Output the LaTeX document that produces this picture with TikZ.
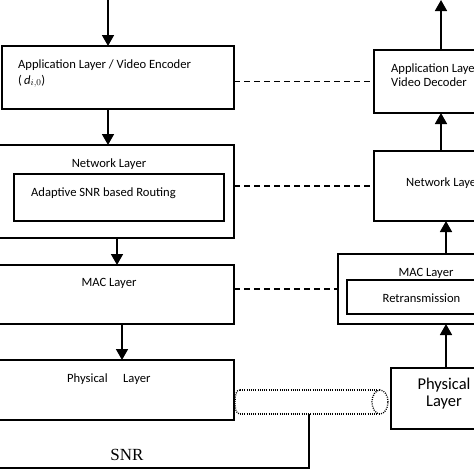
\documentclass[tikz,border=0pt]{standalone}
\usepackage{fontspec}
\setmainfont{Carlito}
\newfontfamily\snrfont{Liberation Serif}
\usetikzlibrary{arrows.meta}
\begin{document}
\begin{tikzpicture}[x=1pt,y=-1pt,
  box/.style={draw,line width=1.3pt,rectangle,inner sep=0pt,outer sep=0pt,anchor=north west},
  arr/.style={line width=1.7pt,-{Triangle[width=12pt,length=11pt]}},
  peer/.style={line width=1.4pt,dash pattern=on 6pt off 4pt},
  dotl/.style={line width=1.3pt,dash pattern=on 1pt off 1.2pt},
  lbl/.style={inner sep=0pt,font=\fontsize{12.6}{16}\selectfont},
  big/.style={inner sep=0pt,font=\fontsize{16.5}{15}\selectfont},
]
\useasboundingbox (0,0) rectangle (474,474);
\clip (0,0) rectangle (474,474);

% left stack
\node[box,minimum width=232pt,minimum height=63pt] (appL) at (2,46) {};
\node[box,minimum width=254pt,minimum height=93pt] (netL) at (-20,145) {};
\node[box,minimum width=210pt,minimum height=47pt] (adaptL) at (14,174) {};
\node[box,minimum width=254pt,minimum height=59pt] (macL) at (-20,265) {};
\node[box,minimum width=254pt,minimum height=60pt] (phyL) at (-20,360) {};

% right stack
\node[box,minimum width=140pt,minimum height=63pt] (appR) at (374,50) {};
\node[box,minimum width=140pt,minimum height=70pt] (netR) at (374,151) {};
\node[box,minimum width=180pt,minimum height=70pt] (macR) at (338,254) {};
\node[box,minimum width=160pt,minimum height=34pt] (retrR) at (347,280) {};
\node[box,minimum width=106pt,minimum height=61pt] (phyR) at (391,368) {};

% labels left
\node[lbl,anchor=base west] (tAppL1) at (18,68) {Application Layer / Video Encoder};
\node[lbl,anchor=base west] (tAppL2) at (18,84) {(\,\textit{d}$_{i,0}$)};
\node[lbl,anchor=base] (tNetL) at (109,167) {Network Layer};
\node[lbl,anchor=base west] (tAdapt) at (31,196) {Adaptive SNR based Routing};
\node[lbl,anchor=base] (tMacL) at (109,286) {MAC Layer};
\node[lbl,anchor=base west] (tPhyL1) at (67,382) {Physical};
\node[lbl,anchor=base west] (tPhyL2) at (123,382) {Layer};

% labels right
\node[lbl,anchor=base west] (tAppR1) at (391,72) {Application Layer /};
\node[lbl,anchor=base west] (tAppR2) at (391,86) {Video Decoder};
\node[lbl,anchor=base west] (tNetR) at (406,186) {Network Layer};
\node[lbl,anchor=base] (tMacR) at (426,276) {MAC Layer};
\node[lbl,anchor=base] (tRetr) at (421.5,302) {Retransmission};
\node[big,anchor=base] (tPhyR1) at (444,389) {Physical};
\node[big,anchor=base] (tPhyR2) at (444,406) {Layer};

\node[inner sep=0pt,font=\snrfont\fontsize{17}{20}\selectfont,anchor=base] (tSNR) at (127,460) {SNR};

% arrow x positions
\coordinate (src) at (108,0);
\coordinate (xb) at (117,0);
\coordinate (xc) at (122,0);
\coordinate (xr1) at (441,0);
\coordinate (xr2) at (446,0);

% down arrows (left)
\draw[arr] (src) -- (src |- appL.north);
\draw[arr] (appL.south -| src) -- (src |- netL.north);
\draw[arr] (netL.south -| xb) -- (xb |- macL.north);
\draw[arr] (macL.south -| xc) -- (xc |- phyL.north);

% up arrows (right)
\draw[arr] (phyR.north -| xr2) -- (xr2 |- macR.south);
\draw[arr] (macR.north -| xr2) -- (xr2 |- netR.south);
\draw[arr] (netR.north -| xr1) -- (xr1 |- appR.south);
\draw[arr] (appR.north -| xr1) -- (xr1);

% peer dashed lines
\draw[peer] (appR.west -| appL.east) -- (appR.west);
\draw[peer] (netR.west -| netL.east) -- (netR.west);
\draw[peer] (macR.west -| macL.east) -- (macR.west);

% dotted channel cylinder
\coordinate (cylTL) at (240,390);
\coordinate (cylTR) at (380,390);
\coordinate (cylBL) at (240,414);
\coordinate (cylBR) at (380,414);
\coordinate (cylB) at (309,414);
\draw[dotl] (cylTL) -- (cylTR);
\draw[dotl] (cylBL) -- (cylBR);
\draw[dotl] (380,402) ellipse [x radius=8pt, y radius=12pt];
\draw[dotl] (cylTL) .. controls (236,390) and (235,395) .. (235,402)
                    .. controls (235,409) and (236,414) .. (cylBL);

% SNR feedback line
\coordinate (snrEnd) at (0,468);
\draw[line width=1.3pt] (snrEnd) -| (cylB);
\end{tikzpicture}
\end{document}
